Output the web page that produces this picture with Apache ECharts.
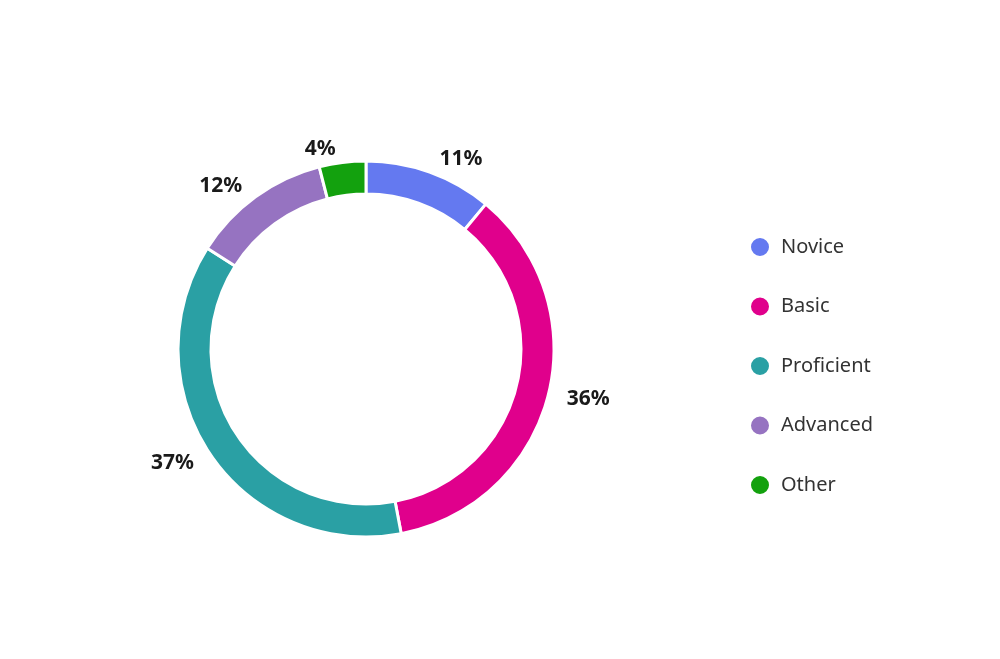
<!DOCTYPE html>
<html>
<head>
<meta charset="utf-8">
<script src="https://cdn.jsdelivr.net/npm/echarts@6/dist/echarts.min.js"></script>
<style>html,body{margin:0;padding:0;background:#fff}#chart{width:1000px;height:659px}</style>
</head>
<body>
<div id="chart"></div>
<script>
const categories = ['Novice', 'Basic', 'Proficient', 'Advanced', 'Other'];
const values = [11, 36, 37, 12, 4];
const colors = ['#6479f0', '#e0008c', '#2aa0a4', '#9673c1', '#13a10e'];

const chart = echarts.init(document.getElementById('chart'));
chart.setOption({
  color: colors,
  legend: {
    orient: 'vertical',
    left: 744,
    top: 231,
    icon: 'circle',
    itemWidth: 20,
    itemHeight: 20,
    itemGap: 37.5,
    textStyle: { fontFamily: 'Noto Sans', fontSize: 20, color: '#333', padding: [0, 0, 0, 6] }
  },
  series: [{
    type: 'pie',
    center: [366, 349],
    radius: [155, 188],
    startAngle: 90,
    clockwise: true,
    avoidLabelOverlap: false,
    itemStyle: { borderColor: '#fff', borderWidth: 3 },
    label: {
      show: true,
      position: 'outside',
      formatter: '{c}%',
      fontFamily: 'Noto Sans',
      fontSize: 21,
      fontWeight: 'bold',
      color: '#1a1a1a'
    },
    labelLine: { show: false, length: 14, length2: 0 },
    emphasis: { disabled: true },
    data: categories.map((c, i) => ({ name: c, value: values[i] }))
  }]
});
</script>
</body>
</html>
